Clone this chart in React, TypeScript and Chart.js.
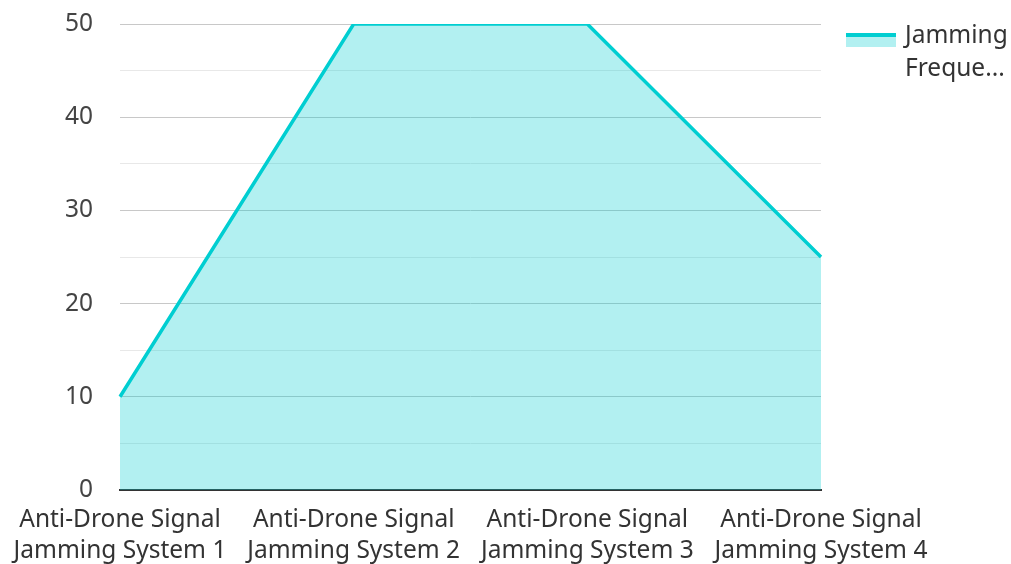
import React, { useEffect, useRef } from "react";
import { Chart, registerables } from "chart.js";

Chart.register(...registerables);

const categories: string[][] = [
  ["Anti-Drone Signal", "Jamming System 1"],
  ["Anti-Drone Signal", "Jamming System 2"],
  ["Anti-Drone Signal", "Jamming System 3"],
  ["Anti-Drone Signal", "Jamming System 4"],
];
const seriesName = "Jamming Frequency";
const legendLines = ["Jamming", "Freque..."];
const values = [10, 50, 50, 25];
const yTicks = [0, 10, 20, 30, 40, 50];

const LINE = "#00CED1";
const FILL = "rgba(0, 206, 209, 0.3)";
const FONT = "'Noto Sans', sans-serif";
const FS = 24.5;

const legendPlugin = {
  id: "customLegend",
  afterDraw(chart: any) {
    const ctx = chart.ctx;
    const x = 846;
    const y = 33;
    ctx.save();
    ctx.fillStyle = FILL;
    ctx.fillRect(x, y, 50, 14);
    ctx.fillStyle = LINE;
    ctx.fillRect(x, y, 50, 4);
    ctx.fillStyle = "#333";
    ctx.font = `${FS}px ${FONT}`;
    ctx.textBaseline = "middle";
    ctx.textAlign = "left";
    legendLines.forEach((t, i) => ctx.fillText(t, 905, 36 + i * 33));
    ctx.restore();
  },
};

export default function App() {
  const ref = useRef<HTMLCanvasElement | null>(null);
  useEffect(() => {
    if (!ref.current) return;
    const chart = new Chart(ref.current, {
      type: "line",
      data: {
        labels: categories,
        datasets: [
          {
            label: seriesName,
            data: values,
            borderColor: LINE,
            backgroundColor: FILL,
            borderWidth: 3.5,
            fill: "origin",
            pointRadius: 0,
            tension: 0,
          },
        ],
      },
      options: {
        animation: false,
        responsive: false,
        maintainAspectRatio: false,
        layout: { padding: { top: 24, right: 190, left: 0, bottom: 0 } },
        plugins: { legend: { display: false }, tooltip: { enabled: false } },
        scales: {
          x: {
            offset: false,
            grid: { display: false, drawTicks: false },
            border: { display: true, color: "#333", width: 2 },
            ticks: {
              color: "#333",
              font: { family: FONT, size: FS, lineHeight: 31 / FS },
              padding: 15,
              maxRotation: 0,
              autoSkip: false,
            },
            afterFit: (s: any) => {
              s.height = 74;
              s.paddingLeft = 0;
              s.paddingRight = 0;
            },
          },
          y: {
            min: 0,
            max: 50,
            grid: {
              drawTicks: false,
              color: (c: any) =>
                c.tick && c.tick.value % 10 === 0 ? "#c8c8c8" : "#e8e8e8",
              lineWidth: 1,
            },
            border: { display: false },
            ticks: {
              stepSize: 5,
              color: "#444",
              font: { family: FONT, size: FS },
              padding: 27,
              callback: (v: any) => (yTicks.includes(Number(v)) ? String(v) : ""),
            },
            afterFit: (s: any) => {
              s.width = 120;
              s.paddingTop = 0;
              s.paddingBottom = 0;
            },
          },
        },
      },
      plugins: [legendPlugin],
    });
    return () => chart.destroy();
  }, []);
  return (
    <div style={{ position: "fixed", left: 0, top: 0, width: 1011, height: 564, background: "#fff" }}>
      <canvas ref={ref} width={1011} height={564} style={{ display: "block" }} />
    </div>
  );
}
